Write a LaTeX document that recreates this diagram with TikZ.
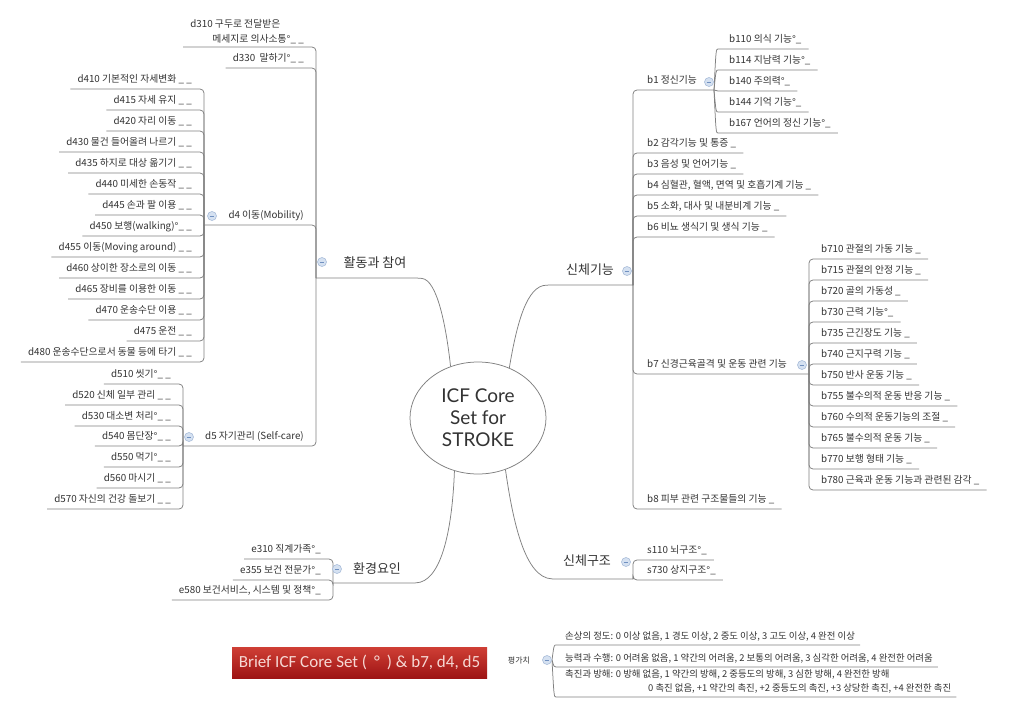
\documentclass[tikz,border=0pt]{standalone}
\usepackage{fontspec}
\setmainfont{Noto Sans CJK KR}
\newfontfamily\latf{Liberation Sans}
\newfontfamily\corefont{Lato}
\newfontfamily\titlefont{Carlito}
\usetikzlibrary{shapes.geometric}
\definecolor{linec}{HTML}{808080}
\definecolor{txt}{HTML}{333333}
\definecolor{btnF}{HTML}{D5E1F1}
\definecolor{btnD}{HTML}{A9BDDA}
\definecolor{btnM}{HTML}{7090C0}
\definecolor{redT}{HTML}{CF3F35}
\definecolor{redB}{HTML}{9E1414}
\definecolor{pinkT}{HTML}{F6D8D4}
\newcommand\dgm{{\latf °}}
\begin{document}
\begin{tikzpicture}[x=1pt,y=-1pt,
 conn/.style={draw=linec, line width=0.75pt, rounded corners=4pt},
 leafbase/.style={inner xsep=7pt, inner ysep=4pt, font=\fontsize{9.8}{15}\selectfont, text=txt},
 leafL/.style={leafbase, anchor=south east, text height=7.5pt, text depth=2.5pt},
 leafR/.style={leafbase, anchor=south west, text height=7.5pt, text depth=2.5pt},
 mainlab/.style={font=\fontsize{13}{15}\selectfont, text=txt, inner sep=1pt},
 evl/.style={anchor=south west, inner xsep=5pt, inner ysep=3.5pt, font=\fontsize{9.4}{14}\selectfont, text=txt, align=left},
 mbtn/.style={circle, draw=btnD, line width=0.6pt, fill=btnF, inner sep=0pt, minimum size=9pt,
   path picture={\draw[btnM, line width=0.9pt] ([xshift=-2.3pt]path picture bounding box.center) -- ([xshift=2.3pt]path picture bounding box.center);}},
]
\fill[white] (0,0) rectangle (1010,713);
\path[use as bounding box] (0,0) rectangle (1010,713);

% central topic
\node[ellipse, draw=linec, line width=0.75pt, minimum width=136pt, minimum height=112pt, inner sep=0pt,
  align=center, font=\corefont\fontsize{19}{22}\selectfont, text=txt] (core) at (478,418) {ICF Core\\Set for\\STROKE};

% ---------- 활동과 참여 ----------
\node[mainlab] (ap) at (375,263) {활동과 참여};
\coordinate (apj) at (316,278);
\draw[conn] (core.118) .. controls (446,325) and (437,280) .. (418,278) -- (apj);

\node[leafbase, anchor=south east, align=left, inner ysep=3pt] (d310) at (311,47) {d310 구두로 전달받은\\\hspace*{22pt}메세지로 의사소통\dgm\_ \_};
\draw[conn] (apj) |- (d310.south west);
\node[leafL] (d330) at (311,68) {d330\ \ 말하기\dgm\_ \_};
\draw[conn] (apj) |- (d330.south west);

\node[leafL] (d4) at (311,225) {d4 이동(Mobility)};
\coordinate (d4j) at (204,225);
\draw[conn] (apj) |- (d4j);

\node[leafL] (d5) at (311,446) {d5 자기관리 (Self-care)};
\coordinate (d5j) at (183,446);
\draw[conn] (apj) |- (d5j);

\foreach \nm/\tx/\uy in {
 d410/{d410 기본적인 자세변화 \_ \_}/89,
 d415/{d415 자세 유지 \_ \_}/110,
 d420/{d420 자리 이동 \_ \_}/131,
 d430/{d430 물건 들어올려 나르기 \_ \_}/152,
 d435/{d435 하지로 대상 옮기기 \_ \_}/173,
 d440/{d440 미세한 손동작 \_ \_}/194,
 d445/{d445 손과 팔 이용 \_ \_}/215,
 d450/{d450 보행(walking)\dgm\_ \_}/236,
 d455/{d455 이동(Moving around) \_ \_}/257,
 d460/{d460 상이한 장소로의 이동 \_ \_}/278,
 d465/{d465 장비를 이용한 이동 \_ \_}/299,
 d470/{d470 운송수단 이용 \_ \_}/320,
 d475/{d475 운전 \_ \_}/341,
 d480/{d480 운송수단으로서 동물 등에 타기 \_ \_}/362}{
  \node[leafL] (\nm) at (199,\uy) {\tx};
  \draw[conn] (d4j) |- (\nm.south west);
}
\foreach \nm/\tx/\uy in {
 d510/{d510 씻기\dgm\_ \_}/384,
 d520/{d520 신체 일부 관리 \_ \_}/405,
 d530/{d530 대소변 처리\dgm\_ \_}/426,
 d540/{d540 몸단장\dgm\_ \_}/446,
 d550/{d550 먹기\dgm\_ \_}/467,
 d560/{d560 마시기 \_ \_}/488,
 d570/{d570 자신의 건강 돌보기 \_ \_}/509}{
  \node[leafL] (\nm) at (178,\uy) {\tx};
  \draw[conn] (d5j) |- (\nm.south west);
}
\node[mbtn] (apb) at (322,262) {};
\node[mbtn] (d4b) at (212,216) {};
\node[mbtn] (d5b) at (189,437) {};

% ---------- 환경요인 ----------
\node[mainlab] (env) at (377,569) {환경요인};
\coordinate (envj) at (333,583);
\draw[conn] (core.246) .. controls (452,535) and (440,582) .. (412,583) -- (envj);
\foreach \nm/\tx/\uy in {
 e310/{e310 직계가족\dgm\_}/559,
 e355/{e355 보건 전문가\dgm\_}/580,
 e580/{e580 보건서비스, 시스템 및 정책\dgm\_}/600}{
  \node[leafL] (\nm) at (328,\uy) {\tx};
  \draw[conn] (envj) |- (\nm.south west);
}
\node[mbtn] (envb) at (337,569) {};

% ---------- 신체기능 ----------
\node[mainlab] (bf) at (590,270) {신체기능};
\coordinate (bfj) at (633,285);
\draw[conn] (core.58) .. controls (517,322) and (527,286) .. (550,285) -- (bfj);

\node[leafR] (b1) at (640,90) {b1 정신기능};
\coordinate (b1j) at (714,90);
\draw[conn] (bfj) |- (b1j);
\foreach \nm/\tx/\uy in {
 b110/{b110 의식 기능\dgm\_}/49,
 b114/{b114 지남력 기능\dgm\_}/70,
 b140/{b140 주의력\dgm\_}/91,
 b144/{b144 기억 기능\dgm\_}/112,
 b167/{b167 언어의 정신 기능\dgm\_}/133}{
  \node[leafR] (\nm) at (722,\uy) {\tx};
  \draw[conn] (b1j) .. controls (716,\uy) .. (\nm.south west) -- (\nm.south east);
}
\foreach \nm/\tx/\uy in {
 b2/{b2 감각기능 및 통증 \_}/153,
 b3/{b3 음성 및 언어기능 \_}/174,
 b4/{b4 심혈관, 혈액, 면역 및 호흡기계 기능 \_}/195,
 b5/{b5 소화, 대사 및 내분비계 기능 \_}/216,
 b6/{b6 비뇨 생식기 및 생식 기능 \_}/237,
 b8/{b8 피부 관련 구조물들의 기능 \_}/509}{
  \node[leafR] (\nm) at (640,\uy) {\tx};
  \draw[conn] (bfj) |- (\nm.south east);
}
\node[leafR] (b7) at (640,374) {b7 신경근육골격 및 운동 관련 기능};
\coordinate (b7j) at (809,374);
\draw[conn] (bfj) |- (b7j);
\foreach \nm/\tx/\uy in {
 b710/{b710 관절의 가동 기능 \_}/259,
 b715/{b715 관절의 안정 기능 \_}/280,
 b720/{b720 골의 가동성 \_}/301,
 b730/{b730 근력 기능\dgm\_}/322,
 b735/{b735 근긴장도 기능 \_}/343,
 b740/{b740 근지구력 기능 \_}/364,
 b750/{b750 반사 운동 기능 \_}/385,
 b755/{b755 불수의적 운동 반응 기능 \_}/406,
 b760/{b760 수의적 운동기능의 조절 \_}/427,
 b765/{b765 불수의적 운동 기능 \_}/448,
 b770/{b770 보행 형태 기능 \_}/469,
 b780/{b780 근육과 운동 기능과 관련된 감각 \_}/490}{
  \node[leafR] (\nm) at (814,\uy) {\tx};
  \draw[conn] (b7j) |- (\nm.south east);
}
\node[mbtn] (bfb) at (627,271) {};
\node[mbtn] (b1b) at (709,82) {};
\node[mbtn] (b7b) at (802,365) {};

% ---------- 신체구조 ----------
\node[mainlab] (bs) at (587,561) {신체구조};
\coordinate (bsj) at (633,579);
\draw[conn] (core.298) .. controls (513,522) and (525,578) .. (556,579) -- (bsj);
\foreach \nm/\tx/\uy in {
 s110/{s110 뇌구조\dgm\_}/560,
 s730/{s730 상지구조\dgm\_}/580}{
  \node[leafR] (\nm) at (640,\uy) {\tx};
  \draw[conn] (bsj) |- (\nm.south east);
}
\node[mbtn] (bsb) at (626,562) {};

% ---------- 평가치 ----------
\node[font=\fontsize{8}{10}\selectfont, text=txt, inner sep=0pt] (pg) at (519,660) {평가치};
\coordinate (pgj) at (552,660);
\node[evl] (ev1) at (560,645) {손상의 정도: 0 이상 없음, 1 경도 이상, 2 중도 이상, 3 고도 이상, 4 완전 이상};
\node[evl] (ev2) at (560,667) {능력과 수행: 0 어려움 없음, 1 약간의 어려움, 2 보통의 어려움, 3 심각한 어려움, 4 완전한 어려움};
\node[evl] (ev3) at (560,697) {촉진과 방해: 0 방해 없음, 1 약간의 방해, 2 중등도의 방해, 3 심한 방해, 4 완전한 방해\\\hspace*{83pt}0 촉진 없음, +1 약간의 촉진, +2 중등도의 촉진, +3 상당한 촉진, +4 완전한 촉진};
\foreach \nm/\uy in {ev1/645,ev2/667,ev3/697}{
  \draw[conn] (pgj) .. controls (554,\uy) .. (\nm.south west) -- (\nm.south east);
}
\node[mbtn] (pgb) at (547,660) {};

% ---------- title box ----------
\node[rectangle, top color=redT, bottom color=redB, minimum width=255pt, minimum height=31pt, inner sep=0pt,
  text=pinkT, font=\titlefont\fontsize{17}{19}\selectfont] (brief) at (359.5,662.5) {Brief ICF Core Set (\hspace{7pt}°\hspace{7pt}) \& b7, d4, d5};
\end{tikzpicture}
\end{document}
